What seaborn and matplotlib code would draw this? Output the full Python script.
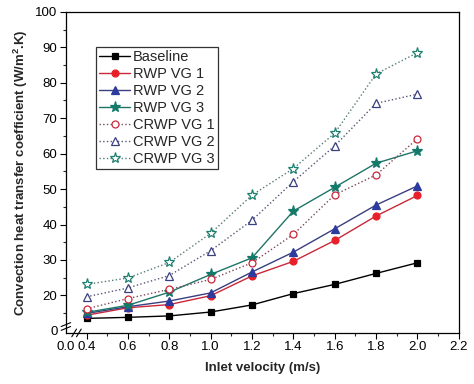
import matplotlib
matplotlib.use("Agg")
import matplotlib.pyplot as plt
import seaborn as sns
import numpy as np
from matplotlib.ticker import MultipleLocator, FixedLocator

velocity = [0.4, 0.6, 0.8, 1.0, 1.2, 1.4, 1.6, 1.8, 2.0]
baseline = [13.5, 13.8, 14.2, 15.3, 17.3, 20.5, 23.1, 26.2, 29.2]
rwp_vg1 = [14.4, 16.5, 17.4, 19.9, 25.5, 29.6, 35.5, 42.4, 48.2]
rwp_vg2 = [14.9, 16.8, 18.4, 20.7, 26.6, 32.2, 38.8, 45.5, 50.9]
rwp_vg3 = [15.2, 17.2, 20.9, 25.9, 30.6, 43.8, 50.5, 57.3, 60.8]
crwp_vg1 = [16.2, 19.1, 21.7, 24.5, 29.2, 37.2, 48.4, 54.0, 64.2]
crwp_vg2 = [19.6, 22.1, 25.6, 32.6, 41.2, 52.1, 62.2, 74.2, 76.8]
crwp_vg3 = [23.1, 24.9, 29.3, 37.5, 48.3, 55.8, 65.8, 82.5, 88.5]

labels = ["Baseline", "RWP VG 1", "RWP VG 2", "RWP VG 3",
          "CRWP VG 1", "CRWP VG 2", "CRWP VG 3"]
x_tick_labels = ["0.0", "0.4", "0.6", "0.8", "1.0", "1.2", "1.4", "1.6", "1.8", "2.0", "2.2"]
y_tick_labels = ["0", "20", "30", "40", "50", "60", "70", "80", "90", "100"]

sns.set_style("ticks")
plt.rcParams["font.family"] = ["Liberation Sans", "DejaVu Sans"]
plt.rcParams["mathtext.fontset"] = "custom"
plt.rcParams["mathtext.rm"] = "Liberation Sans"
plt.rcParams["mathtext.bf"] = "Liberation Sans:bold"

fig = plt.figure(figsize=(4.74, 3.84), dpi=100)
ax = fig.add_axes([0.139, 0.133, 0.829, 0.836])

series = [baseline, rwp_vg1, rwp_vg2, rwp_vg3, crwp_vg1, crwp_vg2, crwp_vg3]
styles = [
    dict(color="black", marker="s", mfc="black", mec="black", ls="-", ms=4.2),
    dict(color="#c8283a", marker="o", mfc="#e8202a", mec="#e8202a", ls="-", ms=5),
    dict(color="#3a3f80", marker="^", mfc="#2e3b9e", mec="#2e3b9e", ls="-", ms=6),
    dict(color="#1f7468", marker="*", mfc="#137a6a", mec="#137a6a", ls="-", ms=8),
    dict(color="#7a4a5a", marker="o", mfc="white", mec="#c8283a", ls=":", ms=5),
    dict(color="#555577", marker="^", mfc="white", mec="#3a3f80", ls=":", ms=6),
    dict(color="#557a78", marker="*", mfc="white", mec="#1f8070", ls=":", ms=8),
]

for vals, lab, st in zip(series, labels, styles):
    sns.lineplot(x=velocity, y=vals, ax=ax, label=lab, color=st["color"],
                 marker=st["marker"], markerfacecolor=st["mfc"],
                 markeredgecolor=st["mec"], markersize=st["ms"],
                 markeredgewidth=0.9, linestyle=st["ls"], linewidth=1.0)

ax.set_xlim(0.3, 2.2)
ax.set_ylim(9.4, 100)
ax.xaxis.set_major_locator(FixedLocator([0.3, 0.4, 0.6, 0.8, 1.0, 1.2, 1.4, 1.6, 1.8, 2.0, 2.2]))
ax.set_xticklabels(x_tick_labels)
ax.xaxis.set_minor_locator(FixedLocator([0.5, 0.7, 0.9, 1.1, 1.3, 1.5, 1.7, 1.9, 2.1]))
ax.yaxis.set_major_locator(FixedLocator([10, 20, 30, 40, 50, 60, 70, 80, 90, 100]))
ax.set_yticklabels(y_tick_labels)
ax.yaxis.set_minor_locator(FixedLocator([15, 25, 35, 45, 55, 65, 75, 85, 95]))

ax.tick_params(axis="both", which="major", direction="out", length=4, width=0.8,
               labelsize=9.5, colors="black", pad=2)
ax.tick_params(axis="both", which="minor", direction="out", length=2.5, width=0.8)
ax.tick_params(axis="both", which="both", top=False, right=False)
ax.xaxis.get_major_ticks()[0].tick1line.set_visible(False)
ax.yaxis.get_major_ticks()[0].tick1line.set_visible(False)

for s in ax.spines.values():
    s.set_color("black")
    s.set_linewidth(0.9)

ax.set_xlabel("Inlet velocity (m/s)", fontsize=9.5, fontweight="bold", labelpad=6)
ax.set_ylabel(r"Convection heat transfer coefficient (W/m$^{\mathbf{2}}$.K)",
              fontsize=9.5, fontweight="bold", labelpad=4)

# axis break marks
for dx in (0.0, 0.012):
    ax.plot([0.015 + dx, 0.027 + dx], [-0.012, 0.012], transform=ax.transAxes,
            color="black", lw=0.8, clip_on=False)
for dy in (0.0, 0.012):
    ax.plot([-0.012, 0.012], [0.008 + dy, 0.020 + dy], transform=ax.transAxes,
            color="black", lw=0.8, clip_on=False)

leg = ax.legend(loc="upper left", bbox_to_anchor=(0.076, 0.892), borderaxespad=0,
                fontsize=10.5, frameon=True, fancybox=False, handlelength=2.1,
                handletextpad=0.2, labelspacing=0.2, borderpad=0.25)
leg.get_frame().set_edgecolor("black")
leg.get_frame().set_linewidth(0.9)

fig.savefig("out.png", dpi=100)
